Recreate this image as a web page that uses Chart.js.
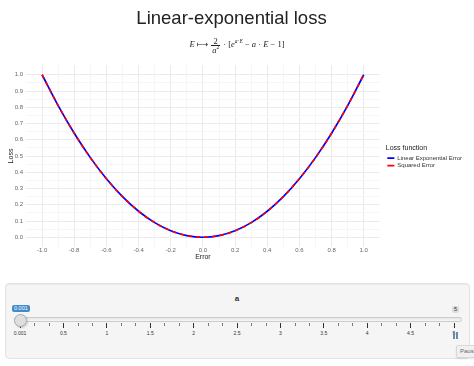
<!DOCTYPE html>
<html>
<head>
<meta charset="utf-8">
<script src="https://cdn.jsdelivr.net/npm/chart.js@4/dist/chart.umd.min.js"></script>
<style>
  html, body { margin:0; padding:0; background:#fff; width:474px; height:366px; overflow:hidden; }
  body { position:relative; font-family:'Liberation Sans', Arial, sans-serif; }
  #chartBox { position:absolute; left:0; top:0; width:474px; height:270px; }
  #formula { position:absolute; left:0; top:37px; width:474px; text-align:center;
             font-family:'Liberation Serif','DejaVu Serif',serif; font-size:8.5px; color:#222; line-height:10px; white-space:nowrap; }
  #formula i { font-style:italic; }
  #formula .arrow { font-family:'DejaVu Sans',sans-serif; font-size:8px; margin:0 2px; }
  #formula .frac { display:inline-block; vertical-align:middle; text-align:center; margin:0 1px; }
  #formula .frac span { display:block; line-height:8px; padding:0 1px; }
  #formula .frac .num { border-bottom:0.6px solid #222; }
  #formula sup { font-size:5.5px; vertical-align:4px; line-height:0; }
  .panel { position:absolute; left:5px; top:283px; width:463px; height:74px; background:#f5f5f5;
           border:1px solid #e3e3e3; border-radius:4px; box-shadow:inset 0 1px 1px rgba(0,0,0,.05); }
  .alabel { position:absolute; left:0; top:294px; width:474px; text-align:center; font-weight:bold; font-size:8px; color:#333; }
  .track { position:absolute; left:14px; top:317px; width:446px; height:3px; border:0.6px solid #ccc; border-radius:3px;
           background:linear-gradient(to bottom,#ddd -50%,#fff 150%); }
  .handle { position:absolute; left:14px; top:314px; width:11px; height:11px; border-radius:50%;
            background:#dedede; border:0.6px solid #ababab; box-shadow:1px 1px 2px rgba(0,0,0,.15); }
  .badge { position:absolute; font-size:5.5px; line-height:7px; padding:0 2px; border-radius:2px; }
  .single { left:12px; top:305px; background:#428bca; color:#fff; }
  .maxb { left:452px; top:306px; background:rgba(0,0,0,.1); color:#333; }
  .pol { position:absolute; width:0.7px; background:#333; }
  .glab { position:absolute; font-size:5px; color:#333; transform:translateX(-50%); top:330px; white-space:nowrap; }
  .play { position:absolute; left:453px; top:332px; width:5px; height:7px; }
  .play span { position:absolute; top:0; width:2px; height:7px; background:#6f88a8; }
  .tip { position:absolute; left:456px; top:345px; width:30px; height:11px; background:#f0f0f0; border:0.6px solid #d8d8d8;
         border-radius:2px; font-size:6px; line-height:11px; color:#666; padding-left:3px; box-shadow:0 1px 2px rgba(0,0,0,.1); }
</style>
</head>
<body>
<div id="chartBox"><canvas id="c"></canvas></div>
<div id="formula"><i>E</i><span class="arrow">⟼</span><span class="frac"><span class="num">2</span><span class="den"><i>a</i><sup>2</sup></span></span> · [<i>e</i><sup><i>a</i>·<i>E</i></sup> − <i>a</i> · <i>E</i> − 1]</div>

<div class="panel"></div>
<div class="alabel">a</div>
<div class="track"></div>
<div id="grid"></div>
<div class="handle"></div>
<div class="badge single">0.001</div>
<div class="badge maxb">5</div>
<div class="play"><span style="left:0"></span><span style="left:3px"></span></div>
<div class="tip">Pause</div>

<script>
// ---- data ----
const errorValues = [-1.0,-0.9,-0.8,-0.7,-0.6,-0.5,-0.4,-0.3,-0.2,-0.1,0.0,0.1,0.2,0.3,0.4,0.5,0.6,0.7,0.8,0.9,1.0];
const linexLoss   = [1.00,0.81,0.64,0.49,0.36,0.25,0.16,0.09,0.04,0.01,0.00,0.01,0.04,0.09,0.16,0.25,0.36,0.49,0.64,0.81,1.00];
const squaredLoss = [1.00,0.81,0.64,0.49,0.36,0.25,0.16,0.09,0.04,0.01,0.00,0.01,0.04,0.09,0.16,0.25,0.36,0.49,0.64,0.81,1.00];
const seriesNames = ['Linear Exponential Error', 'Squared Error'];
const xMajorTicks = [-1.0,-0.8,-0.6,-0.4,-0.2,0.0,0.2,0.4,0.6,0.8,1.0];
const xMinorTicks = [-0.9,-0.7,-0.5,-0.3,-0.1,0.1,0.3,0.5,0.7,0.9];
const yMajorTicks = [0.0,0.1,0.2,0.3,0.4,0.5,0.6,0.7,0.8,0.9,1.0];
const yMinorTicks = [0.05,0.15,0.25,0.35,0.45,0.55,0.65,0.75,0.85,0.95];
const sliderLabels = ['0.001','0.5','1','1.5','2','2.5','3','3.5','4','4.5','5'];

// ---- slider grid (HTML widget under the chart) ----
(function(){
  const g = document.getElementById('grid');
  const x0 = 20, x1 = 454, n = sliderLabels.length - 1, step = (x1 - x0) / n;
  sliderLabels.forEach((lab, k) => {
    const x = x0 + k * step;
    const p = document.createElement('div'); p.className = 'pol';
    p.style.left = (x - 0.35) + 'px'; p.style.top = '323px'; p.style.height = '4.5px'; g.appendChild(p);
    const t = document.createElement('div'); t.className = 'glab'; t.textContent = lab;
    t.style.left = x + 'px'; g.appendChild(t);
    if (k < n) {
      [1/3, 2/3].forEach(f => {
        const s = document.createElement('div'); s.className = 'pol';
        s.style.left = (x + f * step - 0.35) + 'px'; s.style.top = '323px'; s.style.height = '2.5px'; s.style.background = '#777'; g.appendChild(s);
      });
    }
  });
})();

const near = (a, arr) => arr.some(v => Math.abs(v - a) < 1e-6);
const toXY = ys => errorValues.map((x, i) => ({x, y: ys[i]}));
const font = 'Liberation Sans, Arial, sans-serif';

new Chart(document.getElementById('c'), {
  type: 'line',
  data: {
    datasets: [
      { label: seriesNames[0], data: toXY(linexLoss), borderColor: '#0000ff', backgroundColor: '#0000ff', order: 1,
        borderWidth: 1.7, pointRadius: 0, cubicInterpolationMode: 'monotone', fill: false },
      { label: seriesNames[1], data: toXY(squaredLoss), borderColor: '#ff0000', backgroundColor: '#ff0000', order: 0,
        borderWidth: 1.7, pointRadius: 0, cubicInterpolationMode: 'monotone', fill: false, borderDash: [4, 4] }
    ]
  },
  options: {
    responsive: true, maintainAspectRatio: false, animation: false,
    layout: { padding: { left: 0, right: 11, top: 0, bottom: 7 } },
    plugins: {
      title: { display: true, text: 'Linear-exponential loss', color: '#222',
               font: { family: font, size: 18.5, weight: 'normal' }, padding: { top: 7.9, bottom: 34.9 } },
      legend: {
        position: 'right', align: 'center', fullSize: false,
        title: { display: true, text: 'Loss function', color: '#222', position: 'start',
                 font: { family: font, size: 7 }, padding: { top: 3, bottom: 0.5 } },
        labels: {
          usePointStyle: true, pointStyle: 'line', pointStyleWidth: 7, padding: 1.5, color: '#333',
          font: { family: font, size: 6 },
          sort: (a, b) => a.datasetIndex - b.datasetIndex,
          generateLabels: chart => Chart.defaults.plugins.legend.labels.generateLabels(chart)
            .map(l => Object.assign(l, { lineDash: [], lineWidth: 1.7 }))
        }
      },
      tooltip: { enabled: false }
    },
    scales: {
      x: {
        type: 'linear', min: -1.1, max: 1.1,
        afterBuildTicks: s => { s.ticks = xMajorTicks.concat(xMinorTicks).sort((a,b)=>a-b).map(v => ({value: v})); },
        afterFit: s => { s.height = 16; },
        ticks: { autoSkip: false, maxRotation: 0, padding: 0, color: '#666', font: { family: font, size: 6 },
                 callback: v => near(v, xMajorTicks) ? v.toFixed(1) : '' },
        grid: { drawTicks: false, lineWidth: 1, color: c => (c.tick && near(c.tick.value, xMajorTicks)) ? '#ebebeb' : '#f6f6f6' },
        border: { display: false },
        title: { display: true, text: 'Error', color: '#222', font: { family: font, size: 7 }, padding: { top: 0, bottom: 1.8 } }
      },
      y: {
        type: 'linear', min: -0.06, max: 1.06,
        afterBuildTicks: s => { s.ticks = yMajorTicks.concat(yMinorTicks).sort((a,b)=>a-b).map(v => ({value: v})); },
        afterFit: s => { s.width = 26; },
        ticks: { autoSkip: false, padding: 3, color: '#666', font: { family: font, size: 6 },
                 callback: v => near(v, yMajorTicks) ? v.toFixed(1) : '' },
        grid: { drawTicks: false, lineWidth: 1, color: c => (c.tick && near(c.tick.value, yMajorTicks)) ? '#ebebeb' : '#f6f6f6' },
        border: { display: false },
        title: { display: true, text: 'Loss', color: '#222', font: { family: font, size: 7 }, padding: { top: 6.5, bottom: 0 } }
      },
      gap: {
        type: 'linear', position: 'right', display: true,
        afterFit: s => { s.width = 6; },
        ticks: { display: false }, grid: { display: false, drawTicks: false }, border: { display: false }
      }
    }
  }
});
</script>
</body>
</html>
